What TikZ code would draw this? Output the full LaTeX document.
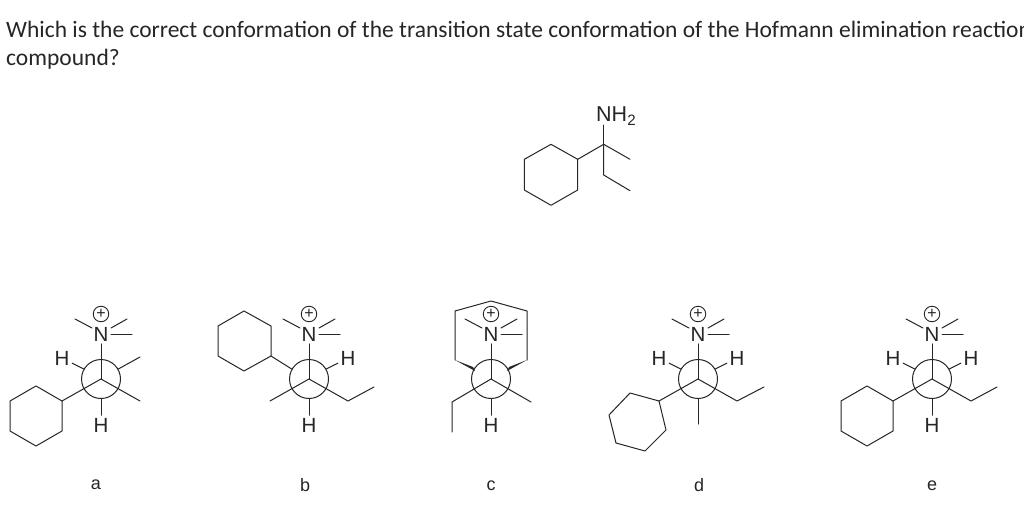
\documentclass[tikz,border=0pt]{standalone}
\usepackage{fontspec}
\setmainfont{Liberation Sans}
\newfontfamily\titlefont{Carlito}
\tikzset{
  bond/.style={line width=1pt,draw=black!85,line cap=round,line join=round},
  atom/.style={inner sep=2.5pt,text=black!85,font=\fontsize{20.5}{20.5}\selectfont},
  chargeplus/.style={circle,draw=black!85,line width=.9pt,minimum size=15.5pt,inner sep=0pt,text=black!85,font=\fontsize{16}{16}\selectfont},
  newmanring/.style={circle,draw=black!85,line width=1pt,minimum size=39pt,inner sep=0pt},
  caption/.style={text=black!85,font=\fontsize{18}{18}\selectfont},
  question/.style={anchor=base west,inner sep=0pt,text=black!85,font=\titlefont\fontsize{23.5}{23.5}\selectfont}
}
% Newman projection common to all five structures, centred on the local origin
\newcommand{\newmancore}{%
  \node[newmanring] (ring) at (0,0) {};
  \coordinate (front) at (0,0);
  \node[atom] (N) at (0,-45) {N};
  \node[chargeplus] (plus) at (0,-65) {+};
  \coordinate (m1a) at (-9,-51); \coordinate (m1b) at (-26,-60);
  \coordinate (m2a) at (10,-51); \coordinate (m2b) at (26,-60);
  \coordinate (m3a) at (10,-45); \coordinate (m3b) at (31,-45);
  \draw[bond] (m1a) -- (m1b);
  \draw[bond] (m2a) -- (m2b);
  \draw[bond] (m3a) -- (m3b);
  \draw[bond] (front) -- (N);
}
\newcommand{\backH}[2]{\node[atom] (#1) at (#2) {H};}
\begin{document}
\begin{tikzpicture}[x=1pt,y=-1pt]
\useasboundingbox (0,0) rectangle (1024,516);
\fill[white] (0,0) rectangle (1024,516);

\node[question] (q1) at (6,37.5) {Which is the correct conformation of the transition state conformation of the Hofmann elimination reaction};
\node[question] (q2) at (6,65.5) {compound?};

% starting amine
\begin{scope}[name prefix=top-]
  \node[atom,anchor=west,inner sep=0pt,font=\fontsize{21.5}{21.5}\selectfont] (nh) at (596,116) {NH\textsubscript{2}};
  \coordinate (c) at (603.7,144.3);
  \coordinate (nhb) at (603.7,125);
  \coordinate (me) at (630,159.3);
  \coordinate (et1) at (603.7,175);
  \coordinate (et2) at (630,190.7);
  \coordinate (r1) at (577.7,159.3);
  \draw[bond] (c) -- (nhb);
  \draw[bond] (c) -- (me);
  \draw[bond] (c) -- (et1) -- (et2);
  \draw[bond] (c) -- (r1);
  \draw[bond] (r1) -- (577.7,190) -- (551,205.3) -- (524.3,190) -- (524.3,159.3) -- (551,144.3) -- cycle;
\end{scope}

% a
\begin{scope}[shift={(101,379)},name prefix=a-]
  \newmancore
  \backH{hl}{-39,-21}
  \backH{hb}{0,46}
  \draw[bond] (ring.150) -- (hl);
  \draw[bond] (ring.270) -- (hb);
  \coordinate (mb) at (39,-22);
  \draw[bond] (ring.30) -- (mb);
  \coordinate (mf) at (39,22);
  \draw[bond] (front) -- (mf);
  \coordinate (cy) at (-39,22);
  \draw[bond] (front) -- (cy);
  \draw[bond] (cy) -- (-39,52) -- (-65,67) -- (-91,52) -- (-91,22) -- (-65,7) -- cycle;
\end{scope}

% b
\begin{scope}[shift={(309,379)},name prefix=b-]
  \newmancore
  \backH{hr}{39,-21}
  \backH{hb}{0,46}
  \draw[bond] (ring.30) -- (hr);
  \draw[bond] (ring.270) -- (hb);
  \coordinate (cy) at (-38,-23);
  \draw[bond] (ring.150) -- (cy);
  \draw[bond] (cy) -- (-38,-53) -- (-65,-68) -- (-91,-53) -- (-91,-23) -- (-65,-8) -- cycle;
  \coordinate (mf) at (-39,22);
  \draw[bond] (front) -- (mf);
  \coordinate (e1) at (39,22); \coordinate (e2) at (65,8);
  \draw[bond] (front) -- (e1) -- (e2);
\end{scope}

% c
\begin{scope}[shift={(491,379)},name prefix=c-]
  \newmancore
  \backH{hb}{0,46}
  \draw[bond] (ring.270) -- (hb);
  \coordinate (wl) at (-36,-19);
  \coordinate (wr) at (36,-19);
  \fill[black!85] (wl) -- (-18,-12) -- (-16,-8) -- cycle;
  \fill[black!85] (wr) -- (18,-12) -- (16,-8) -- cycle;
  \draw[bond] (wl) -- (-36,-68) -- (0,-78) -- (36,-68) -- (wr);
  \coordinate (e1) at (-39,23); \coordinate (e2) at (-39,53);
  \draw[bond] (front) -- (e1) -- (e2);
  \coordinate (mf) at (40,23);
  \draw[bond] (front) -- (mf);
\end{scope}

% d
\begin{scope}[shift={(698,379)},name prefix=d-]
  \newmancore
  \backH{hl}{-39,-21}
  \backH{hr}{39,-21}
  \draw[bond] (ring.150) -- (hl);
  \draw[bond] (ring.30) -- (hr);
  \coordinate (mb) at (0,45);
  \draw[bond] (ring.270) -- (mb);
  \coordinate (cy) at (-39,22);
  \draw[bond] (front) -- (cy);
  \draw[bond] (cy) -- (-32,51) -- (-53,72) -- (-82,64) -- (-89,36) -- (-68,14) -- cycle;
  \coordinate (e1) at (39,22); \coordinate (e2) at (66,8);
  \draw[bond] (front) -- (e1) -- (e2);
\end{scope}

% e
\begin{scope}[shift={(932,379)},name prefix=e-]
  \newmancore
  \backH{hl}{-39,-21}
  \backH{hr}{39,-21}
  \backH{hb}{0,46}
  \draw[bond] (ring.150) -- (hl);
  \draw[bond] (ring.30) -- (hr);
  \draw[bond] (ring.270) -- (hb);
  \coordinate (cy) at (-39,22);
  \draw[bond] (front) -- (cy);
  \draw[bond] (cy) -- (-39,52) -- (-65,67) -- (-91,52) -- (-91,22) -- (-65,7) -- cycle;
  \coordinate (e1) at (39,22); \coordinate (e2) at (65,8);
  \draw[bond] (front) -- (e1) -- (e2);
\end{scope}

\node[caption] (la) at (96,485) {a};
\node[caption] (lb) at (305,485) {b};
\node[caption] (lc) at (491,486) {c};
\node[caption] (ld) at (699,485) {d};
\node[caption] (le) at (932,486) {e};
\end{tikzpicture}
\end{document}
